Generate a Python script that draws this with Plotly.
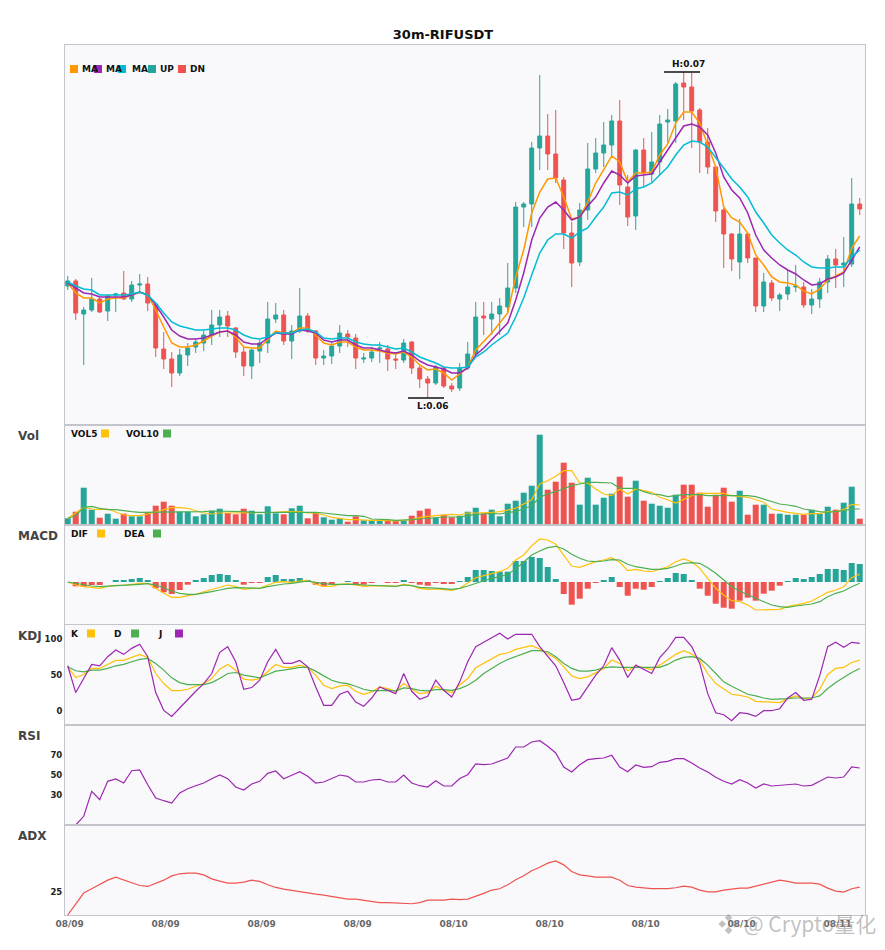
import plotly.graph_objects as go
from plotly.subplots import make_subplots

# ================= DATA (30m RIFUSDT, 100 bars) ===================
TITLE = "30m-RIFUSDT"

tick_pos = [0, 12, 24, 36, 48, 60, 72, 84, 96]
tick_text = ["08/09", "08/09", "08/09", "08/09", "08/10", "08/10", "08/10", "08/10", "08/11"]

open_ = [0.06347, 0.06362, 0.06263, 0.06275, 0.06308, 0.06272, 0.06320, 0.06326, 0.06308, 0.06350,
         0.06353, 0.06293, 0.06158, 0.06128, 0.06086, 0.06140, 0.06164, 0.06176, 0.06200, 0.06230,
         0.06257, 0.06221, 0.06149, 0.06107, 0.06152, 0.06176, 0.06248, 0.06260, 0.06182, 0.06212,
         0.06257, 0.06212, 0.06131, 0.06137, 0.06167, 0.06203, 0.06191, 0.06128, 0.06131, 0.06158,
         0.06158, 0.06128, 0.06125, 0.06179, 0.06101, 0.06068, 0.06056, 0.06101, 0.06047, 0.06041,
         0.06101, 0.06143, 0.06257, 0.06248, 0.06263, 0.06284, 0.06341, 0.06584, 0.06593, 0.06761,
         0.06797, 0.06743, 0.06665, 0.06506, 0.06419, 0.06575, 0.06698, 0.06746, 0.06770, 0.06842,
         0.06644, 0.06557, 0.06755, 0.06683, 0.06719, 0.06839, 0.06842, 0.06956, 0.06944, 0.06875,
         0.06779, 0.06704, 0.06575, 0.06503, 0.06419, 0.06503, 0.06431, 0.06287, 0.06356, 0.06308,
         0.06323, 0.06344, 0.06344, 0.06290, 0.06308, 0.06359, 0.06428, 0.06410, 0.06413, 0.06593]
high = [0.06377, 0.06368, 0.06284, 0.06371, 0.06311, 0.06320, 0.06326, 0.06392, 0.06362, 0.06383,
        0.06374, 0.06296, 0.06209, 0.06149, 0.06158, 0.06176, 0.06188, 0.06212, 0.06275, 0.06275,
        0.06272, 0.06224, 0.06164, 0.06158, 0.06185, 0.06299, 0.06296, 0.06275, 0.06230, 0.06341,
        0.06266, 0.06215, 0.06155, 0.06179, 0.06230, 0.06215, 0.06203, 0.06146, 0.06164, 0.06179,
        0.06170, 0.06149, 0.06188, 0.06182, 0.06110, 0.06077, 0.06110, 0.06104, 0.06056, 0.06116,
        0.06179, 0.06299, 0.06299, 0.06299, 0.06311, 0.06416, 0.06599, 0.06599, 0.06779, 0.06980,
        0.06863, 0.06875, 0.06674, 0.06539, 0.06596, 0.06776, 0.06791, 0.06839, 0.06860, 0.06905,
        0.06680, 0.06758, 0.06791, 0.06809, 0.06860, 0.06878, 0.06959, 0.06989, 0.06986, 0.06881,
        0.06821, 0.06704, 0.06581, 0.06506, 0.06548, 0.06506, 0.06431, 0.06386, 0.06365, 0.06326,
        0.06395, 0.06410, 0.06359, 0.06338, 0.06371, 0.06440, 0.06458, 0.06494, 0.06671, 0.06611]
low = [0.06335, 0.06245, 0.06110, 0.06269, 0.06266, 0.06242, 0.06269, 0.06305, 0.06299, 0.06323,
       0.06272, 0.06134, 0.06098, 0.06044, 0.06077, 0.06107, 0.06146, 0.06152, 0.06170, 0.06194,
       0.06194, 0.06131, 0.06077, 0.06068, 0.06116, 0.06146, 0.06236, 0.06170, 0.06128, 0.06206,
       0.06206, 0.06110, 0.06110, 0.06113, 0.06146, 0.06164, 0.06098, 0.06116, 0.06119, 0.06116,
       0.06092, 0.06098, 0.06116, 0.06083, 0.06041, 0.06011, 0.06050, 0.06041, 0.06029, 0.06032,
       0.06095, 0.06134, 0.06200, 0.06200, 0.06200, 0.06266, 0.06326, 0.06524, 0.06524, 0.06695,
       0.06695, 0.06656, 0.06458, 0.06344, 0.06407, 0.06545, 0.06686, 0.06704, 0.06734, 0.06590,
       0.06527, 0.06515, 0.06644, 0.06659, 0.06680, 0.06776, 0.06776, 0.06845, 0.06761, 0.06686,
       0.06683, 0.06539, 0.06401, 0.06392, 0.06368, 0.06416, 0.06269, 0.06269, 0.06302, 0.06272,
       0.06305, 0.06329, 0.06281, 0.06263, 0.06281, 0.06326, 0.06341, 0.06344, 0.06404, 0.06560]
close = [0.06362, 0.06266, 0.06275, 0.06308, 0.06269, 0.06317, 0.06323, 0.06308, 0.06350, 0.06353,
         0.06296, 0.06161, 0.06128, 0.06086, 0.06140, 0.06161, 0.06179, 0.06200, 0.06230, 0.06254,
         0.06227, 0.06149, 0.06107, 0.06155, 0.06176, 0.06248, 0.06260, 0.06182, 0.06212, 0.06257,
         0.06212, 0.06131, 0.06137, 0.06167, 0.06206, 0.06194, 0.06131, 0.06131, 0.06149, 0.06161,
         0.06128, 0.06125, 0.06176, 0.06101, 0.06068, 0.06056, 0.06104, 0.06047, 0.06038, 0.06101,
         0.06143, 0.06254, 0.06251, 0.06263, 0.06287, 0.06341, 0.06584, 0.06593, 0.06761, 0.06797,
         0.06743, 0.06671, 0.06506, 0.06416, 0.06575, 0.06698, 0.06746, 0.06770, 0.06842, 0.06650,
         0.06554, 0.06755, 0.06686, 0.06719, 0.06833, 0.06845, 0.06953, 0.06944, 0.06872, 0.06779,
         0.06704, 0.06572, 0.06503, 0.06428, 0.06503, 0.06431, 0.06287, 0.06359, 0.06311, 0.06320,
         0.06344, 0.06347, 0.06290, 0.06308, 0.06359, 0.06428, 0.06410, 0.06416, 0.06593, 0.06578]

ma5 = [0.06356, 0.06326, 0.06311, 0.06311, 0.06296, 0.06308, 0.06311, 0.06311, 0.06320, 0.06329,
       0.06320, 0.06275, 0.06224, 0.06176, 0.06164, 0.06164, 0.06170, 0.06182, 0.06197, 0.06209,
       0.06212, 0.06194, 0.06164, 0.06161, 0.06161, 0.06188, 0.06212, 0.06206, 0.06206, 0.06221,
       0.06221, 0.06200, 0.06176, 0.06170, 0.06179, 0.06179, 0.06164, 0.06155, 0.06155, 0.06152,
       0.06146, 0.06143, 0.06149, 0.06134, 0.06110, 0.06095, 0.06098, 0.06086, 0.06065, 0.06083,
       0.06104, 0.06155, 0.06179, 0.06206, 0.06236, 0.06266, 0.06374, 0.06455, 0.06566, 0.06629,
       0.06668, 0.06671, 0.06614, 0.06548, 0.06554, 0.06599, 0.06656, 0.06695, 0.06737, 0.06719,
       0.06659, 0.06686, 0.06686, 0.06689, 0.06740, 0.06773, 0.06836, 0.06869, 0.06869, 0.06836,
       0.06770, 0.06704, 0.06584, 0.06551, 0.06539, 0.06506, 0.06440, 0.06410, 0.06374, 0.06359,
       0.06356, 0.06350, 0.06332, 0.06323, 0.06338, 0.06365, 0.06377, 0.06389, 0.06461, 0.06497]
ma10 = [0.06356, 0.06341, 0.06326, 0.06323, 0.06314, 0.06314, 0.06314, 0.06314, 0.06320, 0.06329,
        0.06320, 0.06290, 0.06254, 0.06215, 0.06197, 0.06188, 0.06188, 0.06191, 0.06200, 0.06209,
        0.06212, 0.06200, 0.06179, 0.06173, 0.06173, 0.06191, 0.06206, 0.06203, 0.06203, 0.06215,
        0.06212, 0.06206, 0.06185, 0.06179, 0.06185, 0.06185, 0.06170, 0.06161, 0.06161, 0.06155,
        0.06149, 0.06146, 0.06152, 0.06140, 0.06122, 0.06110, 0.06104, 0.06098, 0.06086, 0.06086,
        0.06101, 0.06140, 0.06161, 0.06185, 0.06209, 0.06236, 0.06305, 0.06386, 0.06485, 0.06551,
        0.06584, 0.06599, 0.06575, 0.06545, 0.06554, 0.06587, 0.06614, 0.06656, 0.06692, 0.06680,
        0.06656, 0.06677, 0.06680, 0.06683, 0.06719, 0.06755, 0.06794, 0.06827, 0.06833, 0.06824,
        0.06800, 0.06746, 0.06674, 0.06635, 0.06611, 0.06566, 0.06500, 0.06455, 0.06431, 0.06410,
        0.06395, 0.06383, 0.06365, 0.06350, 0.06353, 0.06368, 0.06374, 0.06386, 0.06425, 0.06464]
ma20 = [0.06359, 0.06347, 0.06338, 0.06335, 0.06320, 0.06320, 0.06320, 0.06320, 0.06323, 0.06329,
        0.06320, 0.06296, 0.06266, 0.06239, 0.06227, 0.06221, 0.06215, 0.06215, 0.06218, 0.06221,
        0.06221, 0.06215, 0.06200, 0.06191, 0.06188, 0.06194, 0.06206, 0.06206, 0.06206, 0.06215,
        0.06218, 0.06209, 0.06191, 0.06188, 0.06191, 0.06191, 0.06179, 0.06173, 0.06170, 0.06170,
        0.06164, 0.06158, 0.06161, 0.06149, 0.06134, 0.06125, 0.06116, 0.06104, 0.06101, 0.06101,
        0.06104, 0.06134, 0.06149, 0.06170, 0.06188, 0.06206, 0.06254, 0.06311, 0.06380, 0.06446,
        0.06485, 0.06503, 0.06503, 0.06491, 0.06509, 0.06521, 0.06554, 0.06584, 0.06626, 0.06629,
        0.06620, 0.06638, 0.06644, 0.06656, 0.06680, 0.06704, 0.06740, 0.06770, 0.06782, 0.06779,
        0.06764, 0.06734, 0.06701, 0.06668, 0.06644, 0.06614, 0.06569, 0.06536, 0.06500, 0.06476,
        0.06455, 0.06440, 0.06419, 0.06404, 0.06401, 0.06401, 0.06404, 0.06404, 0.06434, 0.06455]

# volume in thousands
volume = [67, 133, 373, 153, 73, 113, 63, 113, 87, 87,
          127, 193, 233, 193, 133, 133, 87, 107, 143, 163,
          120, 107, 163, 143, 107, 187, 117, 107, 167, 193,
          67, 120, 77, 53, 67, 33, 87, 47, 47, 47,
          47, 47, 40, 93, 143, 163, 73, 103, 77, 93,
          133, 173, 117, 153, 87, 213, 243, 323, 393, 903,
          353, 433, 623, 423, 203, 473, 203, 273, 313, 483,
          283, 443, 243, 213, 193, 173, 303, 403, 403, 323,
          183, 303, 373, 233, 343, 103, 203, 203, 113, 113,
          103, 103, 103, 153, 113, 183, 153, 223, 383, 63]
vol5 = [67, 120, 177, 160, 153, 160, 133, 100, 93, 93,
        110, 133, 153, 173, 173, 167, 143, 120, 110, 120,
        120, 120, 127, 120, 120, 120, 127, 133, 133, 133,
        120, 120, 100, 77, 67, 53, 53, 47, 47, 47,
        40, 40, 47, 53, 73, 87, 93, 100, 107, 100,
        120, 120, 120, 127, 133, 153, 167, 210, 253, 410,
        443, 487, 543, 543, 420, 420, 360, 310, 293, 360,
        310, 360, 343, 327, 277, 253, 220, 260, 293, 317,
        317, 317, 317, 293, 287, 277, 253, 227, 160, 143,
        127, 117, 107, 113, 113, 133, 133, 153, 207, 200]
vol10 = [67, 93, 177, 187, 167, 153, 153, 140, 133, 127,
         127, 127, 133, 133, 133, 133, 133, 133, 140, 140,
         140, 133, 133, 127, 127, 133, 133, 133, 133, 133,
         127, 127, 120, 110, 107, 93, 93, 87, 60, 60,
         53, 47, 47, 53, 60, 67, 73, 80, 80, 80,
         93, 107, 110, 117, 110, 127, 133, 160, 193, 277,
         310, 333, 367, 393, 410, 427, 427, 420, 420, 367,
         367, 367, 333, 310, 303, 283, 293, 303, 303, 303,
         293, 293, 293, 300, 300, 293, 283, 260, 233, 210,
         200, 187, 160, 143, 133, 127, 133, 143, 160, 160]

# MACD values in 1e-5 USDT
dif = [0, -3, -4.7, -5.3, -6.3, -4.3, -3.3, -3.3, -2.3, -1.3,
       -1.3, -6.3, -11.3, -15.3, -15.3, -13.7, -12.3, -9.7, -7.3, -4.7,
       -3, -4.7, -7.3, -6.3, -6.3, -3, -0.3, 0.3, -0.3, 1,
       1.7, -2.3, -4.3, -4.3, -2.3, -1.7, -3, -4.3, -4, -3.7,
       -3.7, -4.3, -2.3, -3.7, -6.3, -7.3, -7, -7.7, -8.3, -6.3,
       -1.3, 4.3, 6.3, 8.3, 10.3, 13.7, 22, 27, 36.3, 43,
       42, 37.7, 27, 16, 14.7, 17.7, 20.3, 22, 24.3, 19.7,
       11.3, 12.7, 11, 10.3, 13, 15.3, 20.3, 23, 20.3, 13.7,
       3.7, -6.3, -13, -18.7, -19.7, -23, -28, -28, -28, -27.3,
       -24.7, -23.3, -21.3, -19, -14.7, -10.3, -8, -4.7, 4.3, 7.7]
dea = [0, -1.3, -3, -4, -4.7, -4.3, -4, -3.7, -3, -2.3,
       -1.7, -3, -5.7, -9, -11.3, -12.3, -12.3, -11.3, -9.7, -8,
       -6.3, -5.7, -5.7, -6, -6.3, -4.7, -3, -2, -1.3, -0.3,
       1, -0.3, -1.7, -2.3, -2.3, -2, -2.3, -3, -3.3, -3.7,
       -3.7, -4.3, -3, -3.7, -5.3, -6, -6.3, -6.7, -7.3, -6.3,
       -4, -1.3, 1.3, 3.7, 5.3, 7.7, 13, 19.7, 27, 31,
       34.3, 35.7, 33, 27.7, 23.7, 21, 20.3, 21, 22.3, 22,
       17.7, 15.3, 13.7, 12.7, 12.7, 13.7, 16, 18.7, 19.3, 18.7,
       14.3, 8.7, 2, -4.7, -9, -13, -16.3, -19.7, -23, -24.7,
       -25.3, -24, -23, -22, -19.7, -14.7, -11.3, -9, -4.7, -1.3]
macd_hist = [0, -4.3, -4.7, -3, -3, 0, 2, 1.3, 3, 4,
             1.3, -6.3, -10.3, -12, -8, -2.7, 1.3, 4, 7, 8,
             7, 2, -2.7, -0.7, -0.7, 5, 7, 3, 3, 4,
             2, -2.7, -4.3, -2.7, 0, 1, -2.7, -2.7, -0.7, 0,
             -0.7, -0.7, 2, -0.7, -2.7, -3.7, -0.7, -1.7, -1.7, 1,
             5, 12, 12, 11, 10.3, 10.3, 21, 21, 25, 24,
             15, 3, -12, -22.7, -16.7, -6.7, -1, 2, 5, -5,
             -13.7, -6.7, -7.7, -5, 1, 4, 9, 8, 2, -6.7,
             -13.7, -21.7, -25.7, -26.7, -18.7, -15.7, -18.7, -11.7, -8.7, -3.7,
             1, 4, 3, 5, 8, 13, 13, 12, 19, 18]

k_val = [61.5, 46.5, 50.7, 59.2, 59.2, 64.8, 70.4, 70.4, 75.1, 78.9,
         74.6, 52.1, 38, 28.2, 28.2, 30, 34.3, 38, 45, 58.2,
         64.8, 56.8, 44.1, 42.7, 45, 55.4, 64.8, 60.6, 60.6, 63.8,
         60.6, 49.8, 35.7, 31, 34.3, 35.7, 27.2, 23, 26.3, 33.3,
         31, 27.2, 38, 30, 23.9, 25.4, 34.3, 28.6, 25.4, 36,
         45, 60.1, 66.2, 73.2, 78.9, 80.8, 85.9, 88.7, 91.1, 86.4,
         80.3, 73.2, 61.5, 48.8, 45, 47.4, 53, 59.2, 70.9, 66.2,
         55.9, 62.9, 60.1, 57.7, 63.8, 70.9, 78.9, 84, 79.3, 70.9,
         52.1, 38, 30, 23, 21.6, 19.2, 13.1, 12.2, 11.3, 11.3,
         16.9, 20.7, 16.9, 17.8, 30, 50.7, 59.2, 60.6, 67.6, 70.9]
d_val = [61.5, 55.9, 54.5, 56.8, 56.8, 59.2, 62.9, 64.8, 68.5, 71.8,
         73.2, 66.2, 56.8, 46, 39.4, 36.6, 36.6, 36.6, 39.4, 45,
         52.1, 53.5, 49.8, 47.4, 46, 50.7, 55.4, 56.8, 58.2, 60.6,
         60.6, 55.4, 48.8, 42.7, 39.4, 38, 34.3, 30, 27.7, 28.6,
         28.6, 27.7, 31.9, 31, 28.6, 27.7, 29.6, 29.6, 28.6, 31,
         35.7, 42.7, 52.1, 59.2, 66.2, 71.8, 75.6, 80.3, 84, 84,
         82.6, 75.6, 66.2, 59.2, 55.4, 55.4, 56.8, 60.1, 61.5, 60.6,
         60.6, 60.6, 60.1, 60.1, 60.6, 64.8, 70.9, 74.6, 75.6, 73.2,
         63.8, 52.1, 40.4, 34.3, 28.6, 23, 20.7, 17.8, 16, 16,
         16.9, 17.8, 17.8, 17.8, 20.7, 31, 39.4, 46.5, 53.5, 59.2]
j_val = [62.9, 25.4, 45, 64.8, 62.9, 75.6, 85, 78.9, 87.3, 93,
         75.6, 25.4, 0.5, -8, 3.8, 16, 27.2, 38, 52.1, 81.7,
         89.7, 68.5, 30, 32.4, 42.7, 68.5, 85.9, 66.2, 66.2, 70.4,
         61.5, 33.3, 7.5, 7.5, 23, 27.2, 12.2, 6.1, 17.8, 33.3,
         28.6, 23.9, 52.1, 27.2, 16, 20.2, 42.7, 28.6, 19.2, 40.4,
         68.5, 89.7, 95.8, 102.3, 108.5, 100.5, 107, 107, 107, 89.7,
         75.6, 62.9, 39.4, 14.6, 16.9, 33.3, 49.8, 62.9, 88.3, 70.9,
         46.5, 63.8, 58.2, 52.1, 74.2, 86.4, 102.8, 102.8, 89.7, 66.2,
         23.9, -2.8, -5.6, -14.1, -2.8, -4.2, -8, 0, 0, 2.8,
         17.8, 25.4, 14.6, 16, 49.1, 89.7, 95.8, 88.7, 95.8, 94.4]

rsi = [0, 0, 8.7, 33.7, 25.3, 43.7, 46, 42, 54.3, 55,
       40.3, 27, 24.3, 22, 32, 36.3, 39.3, 42, 46.3, 50,
       46.3, 38, 35, 41, 43.7, 51.7, 54, 46.3, 49.7, 53.3,
       48.7, 42, 43, 46.3, 50, 48.7, 43, 43, 45, 45.7,
       43, 43, 50, 42, 39.3, 38, 44.3, 39, 39, 46.5,
       50.3, 61, 60.3, 61, 63.7, 67, 78, 78, 83, 84.3,
       78.7, 72, 58, 53, 60.3, 65.3, 66.3, 67, 69.7, 58,
       53.3, 60, 57.7, 58.3, 62.7, 63.7, 66.3, 66.3, 62, 57,
       53, 47.7, 43.7, 41, 45.3, 42, 37, 41, 39, 39.7,
       40.7, 41, 39, 39.7, 43.7, 48, 47, 48, 58, 57]

adx = [0, 12.2, 24.4, 29.2, 34.3, 38.7, 42.1, 39.1, 36.5, 32.8,
       31.7, 35.1, 38.7, 43.5, 45.8, 46.5, 46.5, 44.6, 40.2, 37.6,
       35.4, 35.4, 36.5, 38.7, 37.3, 33.6, 30.6, 28.8, 27.3, 25.5,
       24.4, 23.2, 22.1, 20.7, 18.8, 17.7, 17.7, 16.6, 15.5, 13.7,
       13.7, 13.3, 12.5, 12.5, 13.7, 16.6, 16.6, 16.6, 17.7, 17,
       17.7, 20.7, 24, 27.7, 29.2, 33.6, 39.1, 43.5, 49.1, 53.1,
       57.6, 60.1, 55.7, 48.3, 44.6, 43.5, 42.1, 42.1, 42.1, 38.7,
       32.8, 31, 29.9, 29.2, 29.2, 29.2, 30.3, 32.1, 31, 27.7,
       25.8, 25.8, 27.7, 29.2, 29.9, 29.9, 32.1, 34.3, 36.5, 38.7,
       37.3, 35.4, 35.4, 35.4, 34.3, 29.9, 26.6, 25.5, 29.2, 31]

# ================= STYLE ===================
UP = "#26a69a"
DN = "#ef5350"
ORANGE = "#ff9800"
PURPLE = "#9c27b0"
CYAN = "#00bcd4"
YELLOW = "#ffc107"
GREEN = "#4caf50"
BORDER = "#c4c4cc"
FONT = "DejaVu Sans"

x = list(range(len(close)))

fig = make_subplots(rows=6, cols=1, shared_xaxes=True, vertical_spacing=0,
                    row_heights=[380, 100, 100, 100, 100, 90])

# ---- price panel
fig.add_hline(y=0.065, line=dict(color="#dcdcdc", width=1), layer="below", row=1, col=1)
fig.add_trace(go.Candlestick(
    x=x, open=open_, high=high, low=low, close=close,
    increasing=dict(line=dict(color=UP, width=1), fillcolor=UP),
    decreasing=dict(line=dict(color=DN, width=1), fillcolor=DN),
    whiskerwidth=0, showlegend=False), row=1, col=1)
for vals, col in [(ma5, ORANGE), (ma10, PURPLE), (ma20, CYAN)]:
    fig.add_trace(go.Scatter(x=x, y=vals, mode="lines", line=dict(color=col, width=1.5),
                             showlegend=False), row=1, col=1)

# high / low markers
hi = max(range(len(high)), key=lambda i: high[i])
lo = min(range(len(low)), key=lambda i: low[i])
for idx, val, txt, anchor, shift in [(hi, high[hi], f"H:{high[hi]:.2f}", "bottom", 1),
                                     (lo, low[lo], f"L:{low[lo]:.2f}", "top", -1)]:
    fig.add_shape(type="line", x0=idx - 2.46, x1=idx + 2.04, y0=val, y1=val,
                  line=dict(color="#111111", width=1.5), row=1, col=1)
    fig.add_annotation(x=idx + 0.6, y=val, text=txt, showarrow=False, yanchor=anchor,
                       yshift=shift, font=dict(size=9, color="#111111", weight="bold"),
                       row=1, col=1)

# ---- volume panel
bar_cols = [UP if c >= o else DN for o, c in zip(open_, close)]
fig.add_trace(go.Bar(x=x, y=volume, marker=dict(color=bar_cols, line_width=0),
                     showlegend=False), row=2, col=1)
fig.add_trace(go.Scatter(x=x, y=vol5, mode="lines", line=dict(color=YELLOW, width=1.2),
                         showlegend=False), row=2, col=1)
fig.add_trace(go.Scatter(x=x, y=vol10, mode="lines", line=dict(color=GREEN, width=1.2),
                         showlegend=False), row=2, col=1)

# ---- MACD panel
fig.add_hline(y=0, line=dict(color="#dddddd", width=1), layer="below", row=3, col=1)
hist_cols = [UP if v >= 0 else DN for v in macd_hist]
fig.add_trace(go.Bar(x=x, y=macd_hist, marker=dict(color=hist_cols, line_width=0),
                     showlegend=False), row=3, col=1)
fig.add_trace(go.Scatter(x=x, y=dif, mode="lines", line=dict(color=YELLOW, width=1.2),
                         showlegend=False), row=3, col=1)
fig.add_trace(go.Scatter(x=x, y=dea, mode="lines", line=dict(color=GREEN, width=1.2),
                         showlegend=False), row=3, col=1)

# ---- KDJ panel
for yv, col in [(100, "#8fd8c8"), (50, "#cfcfcf"), (0, "#f4a6a6")]:
    fig.add_hline(y=yv, line=dict(color=col, width=1), layer="below", row=4, col=1)
for vals, col in [(k_val, YELLOW), (d_val, GREEN), (j_val, PURPLE)]:
    fig.add_trace(go.Scatter(x=x, y=vals, mode="lines", line=dict(color=col, width=1.2),
                             showlegend=False), row=4, col=1)

# ---- RSI panel
for yv, col in [(70, "#8fd8c8"), (50, "#cfcfcf"), (30, "#f4a6a6")]:
    fig.add_hline(y=yv, line=dict(color=col, width=1), layer="below", row=5, col=1)
fig.add_trace(go.Scatter(x=x, y=rsi, mode="lines", line=dict(color=PURPLE, width=1.2),
                         showlegend=False), row=5, col=1)

# ---- ADX panel
fig.add_hline(y=25, line=dict(color="#dcaee3", width=1), layer="below", row=6, col=1)
fig.add_trace(go.Scatter(x=x, y=adx, mode="lines", line=dict(color=DN, width=1.2),
                         showlegend=False), row=6, col=1)

# ================= AXES ===================
tick_font = dict(family=FONT, size=8.5, color="#222222", weight="bold")
for r in range(1, 7):
    fig.update_xaxes(row=r, col=1, range=[-0.34, 99.66], showgrid=False, zeroline=False,
                     showline=True, mirror=True, linecolor=BORDER, linewidth=1,
                     tickvals=tick_pos, ticktext=tick_text, ticks="",
                     showticklabels=(r == 6))
fig.update_xaxes(row=6, col=1, tickfont=dict(family=FONT, size=9, color="#666666", weight="bold"),
                 ticklabelshift=2)
fig.update_xaxes(rangeslider_visible=False)

y_ranges = {1: [0.0593, 0.0707], 2: [0, 1000], 3: [-43, 57],
            4: [-20, 120], 5: [0, 100], 6: [0, 100]}
y_ticks = {4: [0, 50, 100], 5: [30, 50, 70], 6: [25]}
for r in range(1, 7):
    fig.update_yaxes(row=r, col=1, range=y_ranges[r], showgrid=False, zeroline=False,
                     showline=True, mirror=True, linecolor=BORDER, linewidth=1, ticks="",
                     tickvals=y_ticks.get(r, []), showticklabels=r in y_ticks,
                     tickfont=tick_font)

# ================= LABELS / LEGENDS ===================
def yref_of(row):
    return "y domain" if row == 1 else f"y{row} domain"

for row, name in [(2, "Vol"), (3, "MACD"), (4, "KDJ"), (5, "RSI"), (6, "ADX")]:
    fig.add_annotation(xref="paper", x=0, xshift=-49, xanchor="left",
                       yref=yref_of(row), y=1, yanchor="top", yshift=-2,
                       text=name, showarrow=False,
                       font=dict(family=FONT, size=12, color="#444444", weight="bold"))

legends = [
    (1, -24, [("box", 5, ORANGE), ("txt", 16, "MA"), ("box", 29, PURPLE), ("txt", 40, "MA"),
              ("box", 53, CYAN), ("txt", 66, "MA"), ("box", 83, UP), ("txt", 94, "UP"),
              ("box", 113, DN), ("txt", 124, "DN")]),
    (2, -8.5, [("txt", 5, "VOL5"), ("box", 36, YELLOW), ("txt", 60, "VOL10"), ("box", 98, GREEN)]),
    (3, -8.5, [("txt", 5, "DIF"), ("box", 32, YELLOW), ("txt", 58, "DEA"), ("box", 88, GREEN)]),
    (4, -8.5, [("txt", 5, "K"), ("box", 22, YELLOW), ("txt", 48, "D"), ("box", 66, GREEN),
               ("txt", 92, "J"), ("box", 110, PURPLE)]),
]
for row, dy, items in legends:
    for kind, dx, val in items:
        if kind == "box":
            fig.add_shape(type="rect", xref="x domain", xsizemode="pixel", xanchor=0,
                          x0=dx, x1=dx + 8, yref=yref_of(row), ysizemode="pixel", yanchor=1,
                          y0=dy - 4, y1=dy + 4, fillcolor=val, line_width=0)
        else:
            fig.add_annotation(xref="x domain", x=0, xshift=dx - 1, xanchor="left",
                               yref=yref_of(row), y=1, yshift=dy, yanchor="middle",
                               text=val, showarrow=False,
                               font=dict(family=FONT, size=9, color="#111111", weight="bold"))

# watermark
fig.add_annotation(xref="paper", x=1, xanchor="right", xshift=13,
                   yref="paper", y=0, yanchor="middle", yshift=-8,
                   text="❖ @ Crypto量化", showarrow=False,
                   font=dict(family="Noto Sans CJK SC", size=21, color="rgba(140,140,140,0.55)"))

# the page adds an 8px body margin, so margins are offset to keep the plot in place
fig.update_layout(
    width=885, height=950,
    margin=dict(l=57, r=28, t=37, b=43),
    paper_bgcolor="white", plot_bgcolor="#f9f9fb",
    font=dict(family=FONT, size=10, color="#222222"),
    title=dict(text=TITLE, x=(443 - 8) / 885, xref="container", y=1 - 26 / 950, yanchor="middle",
               font=dict(family=FONT, size=13, color="#111111", weight="bold")),
    bargap=0.25, showlegend=False, hovermode=False,
)

fig.write_html("out.html")
